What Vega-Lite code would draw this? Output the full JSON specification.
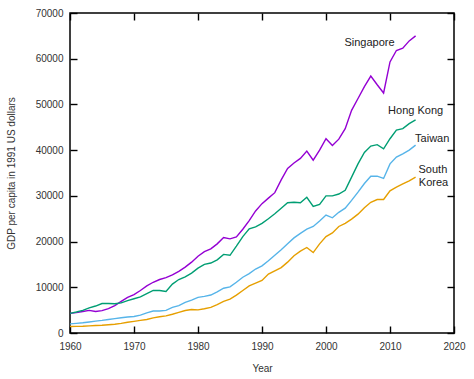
{
  "$schema": "https://vega.github.io/schema/vega-lite/v6.json",
  "width": 384,
  "height": 320,
  "autosize": {"type": "none"},
  "padding": {"left": 70, "top": 13, "right": 20, "bottom": 46},
  "background": "white",
  "config": {
    "view": {"stroke": "black", "strokeWidth": 1.5},
    "font": "Liberation Sans",
    "axis": {
      "grid": false,
      "domain": false,
      "tickSize": -7,
      "tickColor": "black",
      "tickWidth": 1.4,
      "labelFontSize": 10,
      "labelColor": "#333333",
      "labelFont": "Liberation Sans",
      "titleFont": "Liberation Sans",
      "titleFontSize": 10,
      "titleFontWeight": "normal",
      "titleColor": "#333333",
      "labelFlush": false,
      "labelOverlap": false
    }
  },
  "datasets": {
    "gdp": [
      {"year": 1960, "Singapore": 4300, "Hong Kong": 4300, "Taiwan": 2000, "South Korea": 1420},
      {"year": 1961, "Singapore": 4450, "Hong Kong": 4600, "Taiwan": 2100, "South Korea": 1450},
      {"year": 1962, "Singapore": 4700, "Hong Kong": 4950, "Taiwan": 2230, "South Korea": 1480},
      {"year": 1963, "Singapore": 4950, "Hong Kong": 5500, "Taiwan": 2400, "South Korea": 1560},
      {"year": 1964, "Singapore": 4700, "Hong Kong": 5900, "Taiwan": 2600, "South Korea": 1640},
      {"year": 1965, "Singapore": 4900, "Hong Kong": 6450, "Taiwan": 2750, "South Korea": 1700},
      {"year": 1966, "Singapore": 5350, "Hong Kong": 6450, "Taiwan": 2950, "South Korea": 1800},
      {"year": 1967, "Singapore": 6000, "Hong Kong": 6400, "Taiwan": 3150, "South Korea": 1900},
      {"year": 1968, "Singapore": 6900, "Hong Kong": 6600, "Taiwan": 3350, "South Korea": 2100},
      {"year": 1969, "Singapore": 7800, "Hong Kong": 7100, "Taiwan": 3500, "South Korea": 2350},
      {"year": 1970, "Singapore": 8400, "Hong Kong": 7500, "Taiwan": 3600, "South Korea": 2550},
      {"year": 1971, "Singapore": 9300, "Hong Kong": 7900, "Taiwan": 3900, "South Korea": 2750},
      {"year": 1972, "Singapore": 10300, "Hong Kong": 8600, "Taiwan": 4400, "South Korea": 2950},
      {"year": 1973, "Singapore": 11100, "Hong Kong": 9300, "Taiwan": 4800, "South Korea": 3300},
      {"year": 1974, "Singapore": 11700, "Hong Kong": 9300, "Taiwan": 4800, "South Korea": 3550},
      {"year": 1975, "Singapore": 12100, "Hong Kong": 9100, "Taiwan": 4950, "South Korea": 3750},
      {"year": 1976, "Singapore": 12700, "Hong Kong": 10700, "Taiwan": 5600, "South Korea": 4100},
      {"year": 1977, "Singapore": 13500, "Hong Kong": 11700, "Taiwan": 6000, "South Korea": 4500},
      {"year": 1978, "Singapore": 14400, "Hong Kong": 12300, "Taiwan": 6700, "South Korea": 4930},
      {"year": 1979, "Singapore": 15500, "Hong Kong": 13100, "Taiwan": 7200, "South Korea": 5150},
      {"year": 1980, "Singapore": 16800, "Hong Kong": 14200, "Taiwan": 7800, "South Korea": 5050},
      {"year": 1981, "Singapore": 17800, "Hong Kong": 15000, "Taiwan": 8000, "South Korea": 5300},
      {"year": 1982, "Singapore": 18400, "Hong Kong": 15300, "Taiwan": 8300, "South Korea": 5600},
      {"year": 1983, "Singapore": 19500, "Hong Kong": 16000, "Taiwan": 9000, "South Korea": 6200},
      {"year": 1984, "Singapore": 20900, "Hong Kong": 17200, "Taiwan": 9800, "South Korea": 6900},
      {"year": 1985, "Singapore": 20600, "Hong Kong": 17000, "Taiwan": 10100, "South Korea": 7400},
      {"year": 1986, "Singapore": 21000, "Hong Kong": 19000, "Taiwan": 11100, "South Korea": 8300},
      {"year": 1987, "Singapore": 22700, "Hong Kong": 21100, "Taiwan": 12200, "South Korea": 9300},
      {"year": 1988, "Singapore": 24600, "Hong Kong": 22800, "Taiwan": 13000, "South Korea": 10300},
      {"year": 1989, "Singapore": 26700, "Hong Kong": 23200, "Taiwan": 14000, "South Korea": 10900},
      {"year": 1990, "Singapore": 28300, "Hong Kong": 24000, "Taiwan": 14700, "South Korea": 11500},
      {"year": 1991, "Singapore": 29500, "Hong Kong": 25000, "Taiwan": 15800, "South Korea": 12900},
      {"year": 1992, "Singapore": 30700, "Hong Kong": 26100, "Taiwan": 17000, "South Korea": 13600},
      {"year": 1993, "Singapore": 33500, "Hong Kong": 27300, "Taiwan": 18200, "South Korea": 14300},
      {"year": 1994, "Singapore": 36000, "Hong Kong": 28500, "Taiwan": 19500, "South Korea": 15500},
      {"year": 1995, "Singapore": 37200, "Hong Kong": 28600, "Taiwan": 20800, "South Korea": 16900},
      {"year": 1996, "Singapore": 38200, "Hong Kong": 28500, "Taiwan": 21800, "South Korea": 17900},
      {"year": 1997, "Singapore": 39800, "Hong Kong": 29700, "Taiwan": 22700, "South Korea": 18700},
      {"year": 1998, "Singapore": 37800, "Hong Kong": 27700, "Taiwan": 23300, "South Korea": 17600},
      {"year": 1999, "Singapore": 40000, "Hong Kong": 28150, "Taiwan": 24500, "South Korea": 19500},
      {"year": 2000, "Singapore": 42500, "Hong Kong": 30000, "Taiwan": 25800, "South Korea": 21100},
      {"year": 2001, "Singapore": 41000, "Hong Kong": 30000, "Taiwan": 25200, "South Korea": 21900},
      {"year": 2002, "Singapore": 42400, "Hong Kong": 30400, "Taiwan": 26400, "South Korea": 23300},
      {"year": 2003, "Singapore": 44700, "Hong Kong": 31200, "Taiwan": 27300, "South Korea": 24000},
      {"year": 2004, "Singapore": 48700, "Hong Kong": 34100, "Taiwan": 29000, "South Korea": 24900},
      {"year": 2005, "Singapore": 51300, "Hong Kong": 37000, "Taiwan": 30800, "South Korea": 26000},
      {"year": 2006, "Singapore": 53900, "Hong Kong": 39500, "Taiwan": 32700, "South Korea": 27400},
      {"year": 2007, "Singapore": 56200, "Hong Kong": 40900, "Taiwan": 34300, "South Korea": 28600},
      {"year": 2008, "Singapore": 54300, "Hong Kong": 41200, "Taiwan": 34300, "South Korea": 29200},
      {"year": 2009, "Singapore": 52500, "Hong Kong": 40300, "Taiwan": 33800, "South Korea": 29200},
      {"year": 2010, "Singapore": 59300, "Hong Kong": 42500, "Taiwan": 37000, "South Korea": 31100},
      {"year": 2011, "Singapore": 61800, "Hong Kong": 44400, "Taiwan": 38500, "South Korea": 31900},
      {"year": 2012, "Singapore": 62300, "Hong Kong": 44700, "Taiwan": 39200, "South Korea": 32600},
      {"year": 2013, "Singapore": 63900, "Hong Kong": 45800, "Taiwan": 40000, "South Korea": 33300},
      {"year": 2014, "Singapore": 65000, "Hong Kong": 46600, "Taiwan": 41100, "South Korea": 34100}
    ],
    "labels": [
      {"label": "Singapore", "lx": 2006.8, "ly": 63430},
      {"label": "Hong Kong", "lx": 2014.0, "ly": 48640},
      {"label": "Taiwan", "lx": 2016.6, "ly": 42440},
      {"label": "South", "lx": 2016.7, "ly": 35600},
      {"label": "Korea", "lx": 2016.8, "ly": 32710}
    ]
  },
  "layer": [
    {
      "data": {"name": "gdp"},
      "transform": [{"fold": ["Singapore", "Hong Kong", "Taiwan", "South Korea"], "as": ["country", "gdp"]}],
      "mark": {"type": "line", "strokeWidth": 1.4},
      "encoding": {
        "x": {
          "field": "year", "type": "quantitative",
          "scale": {"domain": [1960, 2020], "nice": false, "zero": false},
          "axis": {"orient": "bottom", "values": [1960, 1970, 1980, 1990, 2000, 2010, 2020], "format": "d", "labelPadding": 15, "title": "Year", "titlePadding": 12}
        },
        "y": {
          "field": "gdp", "type": "quantitative",
          "scale": {"domain": [0, 70000], "nice": false},
          "axis": {"orient": "left", "values": [0, 10000, 20000, 30000, 40000, 50000, 60000, 70000], "format": "d", "labelPadding": 14, "title": "GDP per capita in 1991 US dollars", "titlePadding": 19}
        },
        "color": {
          "field": "country", "type": "nominal",
          "scale": {"domain": ["Singapore", "Hong Kong", "Taiwan", "South Korea"], "range": ["#9400d3", "#009e73", "#56b4e9", "#e69f00"]},
          "legend": null
        }
      }
    },
    {
      "data": {"name": "labels"},
      "mark": {"type": "text", "fontSize": 11, "font": "Liberation Sans", "color": "#222222", "align": "center", "baseline": "middle"},
      "encoding": {
        "x": {"field": "lx", "type": "quantitative", "axis": {"orient": "top", "values": [1960, 1970, 1980, 1990, 2000, 2010, 2020], "labels": false, "title": null}},
        "y": {"field": "ly", "type": "quantitative", "axis": {"orient": "right", "values": [0, 10000, 20000, 30000, 40000, 50000, 60000, 70000], "labels": false, "title": null}},
        "text": {"field": "label"}
      }
    }
  ],
  "resolve": {"axis": {"x": "independent", "y": "independent"}}
}
